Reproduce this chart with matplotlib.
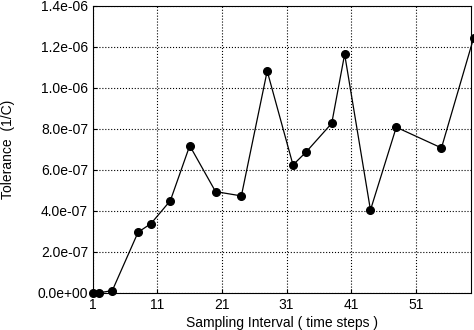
import matplotlib
matplotlib.use("Agg")
import matplotlib.pyplot as plt
from matplotlib.ticker import FormatStrFormatter

plt.rcParams['font.family'] = ['Liberation Sans', 'DejaVu Sans']

# sampling interval vs tolerance
interval = [1, 2, 4, 8, 10, 13, 16, 20, 24, 28, 32, 34, 38, 40, 44, 48, 55, 60]
tolerance = [0.0, 0.0, 1.0e-8, 2.95e-7, 3.37e-7, 4.49e-7, 7.17e-7, 4.93e-7, 4.72e-7,
             1.081e-6, 6.23e-7, 6.85e-7, 8.26e-7, 1.163e-6, 4.03e-7, 8.07e-7,
             7.06e-7, 1.244e-6]
xticks = [1, 11, 21, 31, 41, 51]

fig = plt.figure(figsize=(4.74, 3.30), dpi=100)
ax = fig.add_axes([0.196, 0.113, 0.798, 0.870])

ax.plot(interval, tolerance, color='black', linewidth=0.9, marker='o',
        markersize=5.5, clip_on=False, zorder=3)

ax.set_xlim(1, 59.6)
ax.set_ylim(0, 1.4e-6)
ax.set_xticks(xticks)
ax.set_yticks([i * 2e-7 for i in range(8)])
ax.yaxis.set_major_formatter(FormatStrFormatter('%.1e'))
ax.tick_params(direction='in', length=3, labelsize=10, colors='black')
ax.grid(True, linestyle=':', color='black', linewidth=0.8)

ax.set_xlabel('Sampling Interval ( time steps )', fontsize=10, labelpad=3)
ax.set_ylabel('Tolerance  (1/C)', fontsize=10)
# push the y label out close to the figure edge
ax.yaxis.set_label_coords(-0.205, 0.5)

fig.savefig('out.png', dpi=100)
